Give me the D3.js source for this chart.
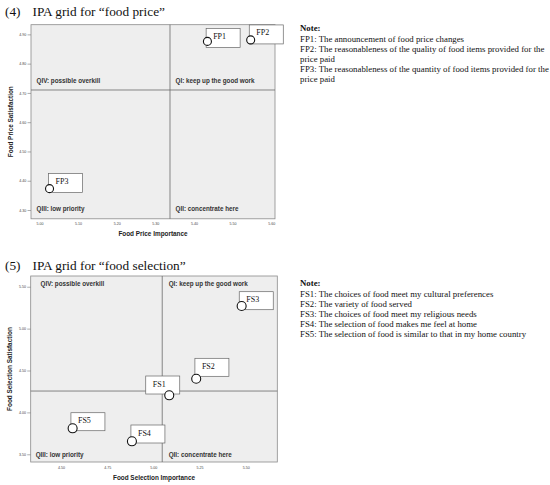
<!DOCTYPE html>
<html>
<head>
<meta charset="utf-8">
<script src="https://cdn.jsdelivr.net/npm/d3@7"></script>
<style>
  body { margin: 0; background: #fff; }
  svg { display: block; }
  .serif { font-family: "Liberation Serif", "Times New Roman", serif; fill: #111; }
  .sans { font-family: "Liberation Sans", Arial, sans-serif; }
  .tick text { font-family: "Liberation Sans", Arial, sans-serif; font-size: 3.6px; fill: #444; }
  .tick line { stroke: #777; stroke-width: 0.6; }
</style>
</head>
<body>
<div id="chart"></div>
<script>
// ---- data ----
const quadrantNames = ["QI: keep up the good work", "QII: concentrate here", "QIII: low priority", "QIV: possible overkill"];

const priceIds = ["FP1", "FP2", "FP3"];
const priceImportance = [5.435, 5.547, 5.026];
const priceSatisfaction = [4.876, 4.881, 4.373];
const priceMeans = [5.338, 4.71];           // importance mean, satisfaction mean
const priceXTicks = [5.00, 5.10, 5.20, 5.30, 5.40, 5.50, 5.60];
const priceYTicks = [4.30, 4.40, 4.50, 4.60, 4.70, 4.80, 4.90];
const priceNotes = [
    ["FP1: The announcement of food price changes"],
    ["FP2: The reasonableness of the quality of food items provided for the", "price paid"],
    ["FP3: The reasonableness of the quantity of food items provided for the", "price paid"]
];

const selectionIds = ["FS1", "FS2", "FS3", "FS4", "FS5"];
const selectionImportance = [5.086, 5.232, 5.478, 4.884, 4.563];
const selectionSatisfaction = [4.204, 4.402, 5.270, 3.655, 3.810];
const selectionMeans = [5.048, 4.255];
const selectionXTicks = [4.50, 4.75, 5.00, 5.25, 5.50];
const selectionYTicks = [3.50, 4.00, 4.50, 5.00, 5.50];
const selectionNotes = [
    ["FS1: The choices of food meet my cultural preferences"],
    ["FS2: The variety of food served"],
    ["FS3: The choices of food meet my religious needs"],
    ["FS4: The selection of food makes me feel at home"],
    ["FS5: The selection of food is similar to that in my home country"]
];

// where each label box sits relative to its point
const labelOffset = {
    FP1: [-1.3, -13], FP2: [-1.4, -15], FP3: [-1, -15],
    FS1: [-23.5, -19.3], FS2: [-1.3, -20.4], FS3: [-2.4, -14.3], FS4: [-1, -16.3], FS5: [-1.7, -15.6]
};

let svg = d3.select("#chart").append("svg")
    .attr("width", 550)
    .attr("height", 485);

// the note text is sized so the longest line spans the same width as in the figure
let probe = svg.append("text").attr("class", "serif").attr("font-size", 10).text(priceNotes[1][0]);
let noteSize = 10 * 245 / probe.node().getComputedTextLength();
probe.remove();

function IPAChart(svg, opts) {
    let vis = this;
    vis.svg = svg;
    vis.opts = opts;
    vis.initVis();
}

IPAChart.prototype.initVis = function() {
    let vis = this;
    let o = vis.opts;

    vis.g = vis.svg.append("g");

    // heading
    vis.g.append("text").attr("class", "serif")
        .attr("x", 5).attr("y", o.titleY)
        .attr("font-size", 13.3)
        .text(o.number);
    vis.g.append("text").attr("class", "serif")
        .attr("x", 32.5).attr("y", o.titleY)
        .attr("font-size", 13.3)
        .text(o.title);

    vis.x = d3.scaleLinear().domain(o.xDomain).range([o.box.left, o.box.right]);
    vis.y = d3.scaleLinear().domain(o.yDomain).range([o.box.bottom, o.box.top]);

    vis.updateVis();
}

IPAChart.prototype.updateVis = function() {
    let vis = this;
    let o = vis.opts;
    let b = o.box;

    // plot background
    vis.g.append("rect")
        .attr("x", b.left).attr("y", b.top)
        .attr("width", b.right - b.left).attr("height", b.bottom - b.top)
        .attr("fill", "#eeeeee")
        .attr("stroke", "#8a8a8a")
        .attr("stroke-width", 0.8);

    // axes
    let xAxis = d3.axisBottom(vis.x).tickValues(o.xTicks).tickFormat(d3.format(".2f"))
        .tickSize(0).tickPadding(4);
    vis.g.append("g").attr("transform", "translate(0," + b.bottom + ")")
        .call(xAxis)
        .call(g => g.select(".domain").remove());

    let yAxis = d3.axisLeft(vis.y).tickValues(o.yTicks).tickFormat(d3.format(".2f"))
        .tickSize(3.5).tickPadding(1.2);
    vis.g.append("g").attr("transform", "translate(" + b.left + ",0)")
        .call(yAxis)
        .call(g => g.select(".domain").remove());

    // axis titles
    vis.g.append("text").attr("class", "sans")
        .attr("x", (b.left + b.right) / 2).attr("y", b.bottom + 17.5)
        .attr("text-anchor", "middle")
        .attr("font-size", 6.4).attr("font-weight", "bold").attr("fill", "#222")
        .text(o.xTitle);
    vis.g.append("text").attr("class", "sans")
        .attr("transform", "translate(" + (b.left - 18.5) + "," + ((b.top + b.bottom) / 2) + ") rotate(-90)")
        .attr("text-anchor", "middle")
        .attr("font-size", 6.4).attr("font-weight", "bold").attr("fill", "#222")
        .text(o.yTitle);

    // mean lines
    let mx = vis.x(o.means[0]), my = vis.y(o.means[1]);
    vis.g.append("line")
        .attr("x1", mx).attr("x2", mx).attr("y1", b.top).attr("y2", b.bottom)
        .attr("stroke", "#6a6a6a").attr("stroke-width", 0.8);
    vis.g.append("line")
        .attr("x1", b.left).attr("x2", b.right).attr("y1", my).attr("y2", my)
        .attr("stroke", "#6a6a6a").attr("stroke-width", 0.8);

    // quadrant names
    let q = o.quadPos(mx, my);
    vis.g.selectAll(".quad")
        .data(quadrantNames)
        .join("text")
        .attr("class", "quad sans")
        .attr("x", (d, i) => q[i][0])
        .attr("y", (d, i) => q[i][1])
        .attr("font-size", 6.3).attr("font-weight", "bold").attr("fill", "#333")
        .text(d => d);

    // points with label boxes
    let pts = o.ids.map((id, i) => ({id: id, x: o.importance[i], y: o.satisfaction[i]}));

    let labels = vis.g.selectAll(".lab")
        .data(pts)
        .join("g")
        .attr("class", "lab")
        .attr("transform", d => "translate(" + (vis.x(d.x) + labelOffset[d.id][0]) + "," + (vis.y(d.y) + labelOffset[d.id][1]) + ")");
    labels.append("rect")
        .attr("width", 34).attr("height", o.labelH)
        .attr("fill", "#fff")
        .attr("stroke", "#666").attr("stroke-width", 0.7);
    labels.append("text").attr("class", "serif")
        .attr("x", 7).attr("y", 10.5)
        .attr("font-size", 8)
        .text(d => d.id);

    vis.g.selectAll(".pt")
        .data(pts)
        .join("ellipse")
        .attr("class", "pt")
        .attr("cx", d => vis.x(d.x))
        .attr("cy", d => vis.y(d.y))
        .attr("rx", o.r).attr("ry", o.r)
        .attr("fill", "#fff")
        .attr("stroke", "#111").attr("stroke-width", 1.1);

    // note block on the right
    vis.g.append("text").attr("class", "serif")
        .attr("x", 300).attr("y", o.noteY)
        .attr("font-size", noteSize).attr("font-weight", "bold")
        .text("Note:");
    let lines = o.notes.flat();
    vis.g.selectAll(".note")
        .data(lines)
        .join("text")
        .attr("class", "note serif")
        .attr("x", 300)
        .attr("y", (d, i) => o.noteY + 11 + i * 10)
        .attr("font-size", noteSize)
        .text(d => d);
}

new IPAChart(svg, {
    number: "(4)",
    title: "IPA grid for \u201cfood price\u201d",
    titleY: 15.7,
    box: {left: 31, right: 275, top: 24.7, bottom: 218.8},
    xDomain: [4.978, 5.61],
    yDomain: [4.27, 4.933],
    xTicks: priceXTicks,
    yTicks: priceYTicks,
    xTitle: "Food Price Importance",
    yTitle: "Food Price Satisfaction",
    means: priceMeans,
    quadPos: (mx, my) => [[mx + 5.5, my - 7], [mx + 5.5, 211], [36.5, 211], [36.5, my - 7]],
    ids: priceIds,
    importance: priceImportance,
    satisfaction: priceSatisfaction,
    labelH: 19,
    r: 4,
    notes: priceNotes,
    noteY: 30.8
});

new IPAChart(svg, {
    number: "(5)",
    title: "IPA grid for \u201cfood selection\u201d",
    titleY: 269.5,
    box: {left: 30.7, right: 277.3, top: 276, bottom: 462},
    xDomain: [4.336, 5.671],
    yDomain: [3.408, 5.628],
    xTicks: selectionXTicks,
    yTicks: selectionYTicks,
    xTitle: "Food Selection Importance",
    yTitle: "Food Selection Satisfaction",
    means: selectionMeans,
    quadPos: (mx, my) => [[mx + 6.5, 286], [mx + 6.5, 457], [35.7, 457], [40.5, 286]],
    ids: selectionIds,
    importance: selectionImportance,
    satisfaction: selectionSatisfaction,
    labelH: 18,
    r: 4.5,
    notes: selectionNotes,
    noteY: 285.5
});
</script>
</body>
</html>
